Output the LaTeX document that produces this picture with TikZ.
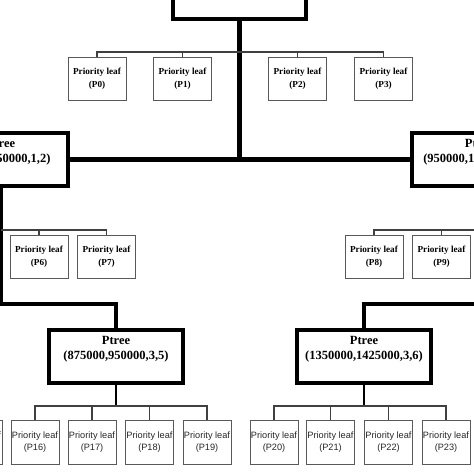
\documentclass[tikz,border=0pt]{standalone}
\usepackage{fontspec}
\setmainfont{Liberation Serif}
\newfontfamily\arialf{Liberation Sans}
\usetikzlibrary{calc}
\begin{document}
\begin{tikzpicture}[x=1pt,y=-1pt,
  ptbox/.style={draw=black, line width=4pt, minimum width=134pt, minimum height=53pt, inner sep=0pt},
  pttext/.style={font=\bfseries\fontsize{12.5}{14.5}\selectfont, align=center, inner sep=0pt},
  leafA/.style={draw=black!65, line width=0.9pt, minimum width=58pt, minimum height=43pt, inner sep=0pt,
    font=\bfseries\fontsize{9.2}{13}\selectfont, align=center},
  leafB/.style={draw=black!65, line width=0.9pt, minimum width=48pt, minimum height=44pt, inner sep=0pt,
    font=\arialf\fontsize{9.2}{11.5}\selectfont, align=center, text=black!85},
  bus/.style={draw=black!75, line width=1.1pt},
  trunk/.style={draw=black, line width=4.5pt},
  midline/.style={draw=black, line width=1.8pt}]
\useasboundingbox (0,0) rectangle (474,474);
\clip (0,0) rectangle (474,474);

% root (cut off at the top)
\node[ptbox, minimum width=133pt, minimum height=50pt] (root) at (239.5,-6) {};

% first-level leaves
\node[leafA] (p0) at (97,78.5) {Priority leaf\\(P0)};
\node[leafA] (p1) at (182.5,78.5) {Priority leaf\\(P1)};
\node[leafA] (p2) at (297.5,78.5) {Priority leaf\\(P2)};
\node[leafA] (p3) at (383.5,78.5) {Priority leaf\\(P3)};

% level-1 Ptrees
\node[ptbox] (L) at (1,159.5) {};
\node[pttext] (Lt) at ([yshift=7.5pt]L.center) {Ptree\\(50000,950000,1,2)};
\node[ptbox] (R) at (479,159.5) {};
\node[pttext] (Rt) at ([yshift=7.5pt]R.center) {Ptree\\(950000,1425000,1,3)};

% second-level leaves
\node[leafA] (p6) at (39,257) {Priority leaf\\(P6)};
\node[leafA] (p7) at (106.5,257) {Priority leaf\\(P7)};
\node[leafA] (p8) at (374,257) {Priority leaf\\(P8)};
\node[leafA] (p9) at (441.5,257) {Priority leaf\\(P9)};

% level-2 Ptrees
\node[ptbox] (B1) at (116,356.5) {};
\node[pttext] (B1t) at ([yshift=7.5pt]B1.center) {Ptree\\(875000,950000,3,5)};
\node[ptbox] (B2) at (364,356.5) {};
\node[pttext] (B2t) at ([yshift=7.5pt]B2.center) {Ptree\\(1350000,1425000,3,6)};

% bottom leaves
\node[leafB] (p15) at (-22,442) {Priority leaf\\(P15)};
\node[leafB] (p16) at (35,442) {Priority leaf\\(P16)};
\node[leafB] (p17) at (92,442) {Priority leaf\\(P17)};
\node[leafB] (p18) at (149.5,442) {Priority leaf\\(P18)};
\node[leafB] (p19) at (207,442) {Priority leaf\\(P19)};
\node[leafB] (p20) at (274,442) {Priority leaf\\(P20)};
\node[leafB] (p21) at (330.5,442) {Priority leaf\\(P21)};
\node[leafB] (p22) at (388.5,442) {Priority leaf\\(P22)};
\node[leafB] (p23) at (446,442) {Priority leaf\\(P23)};

% top connectors
\draw[trunk] (root.south) -- (root.south |- L.east);
\draw[trunk] (L.east) -- (R.west);
\coordinate (tb) at (240,52);
\draw[bus] (p0.north) |- (tb) -| (p3.north);
\draw[bus] (p1.north) -- (p1.north |- tb);
\draw[bus] (p2.north) -- (p2.north |- tb);

% left branch
\coordinate (lj) at (60,304);
\draw[trunk] (L.south) |- (lj) -| (B1.north);
\coordinate (lb) at (1,230);
\draw[bus] (lb) -| (p7.north);
\draw[bus] (p6.north) -- (p6.north |- lb);

% right branch
\coordinate (rj) at (420,304);
\draw[trunk] (R.south) |- (rj) -| (B2.north);
\coordinate (rb) at (479,230);
\draw[bus] (rb) -| (p8.north);
\draw[bus] (p9.north) -- (p9.north |- rb);

% bottom-left leaves
\coordinate (b1j) at (116,406);
\draw[midline] (B1.south) -- (b1j);
\draw[bus] (p16.north) |- (b1j) -| (p19.north);
\draw[bus] (p17.north) -- (p17.north |- b1j);
\draw[bus] (p18.north) -- (p18.north |- b1j);

% bottom-right leaves
\coordinate (b2j) at (364,406);
\draw[midline] (B2.south) -- (b2j);
\draw[bus] (p20.north) |- (b2j) -| (p23.north);
\draw[bus] (p21.north) -- (p21.north |- b2j);
\draw[bus] (p22.north) -- (p22.north |- b2j);
\end{tikzpicture}
\end{document}
